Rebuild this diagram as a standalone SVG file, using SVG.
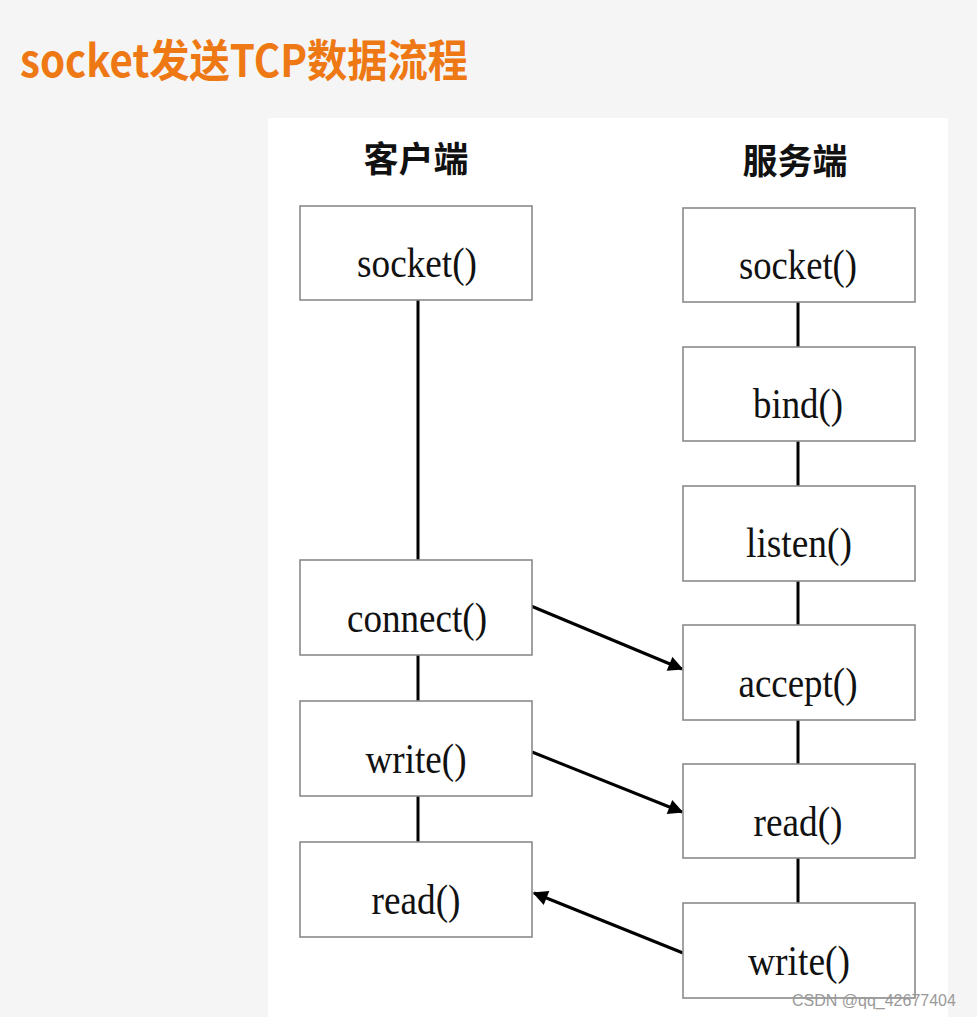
<svg xmlns="http://www.w3.org/2000/svg" width="977" height="1017" viewBox="0 0 977 1017">
<defs>
<marker id="ah" viewBox="0 0 10 10" refX="9" refY="5" markerWidth="5.5" markerHeight="5" orient="auto" markerUnits="strokeWidth">
<path d="M0,0 L10,5 L0,10 z" fill="#000"/>
</marker>
<style>
.box{fill:#fff;stroke:#8a8a8a;stroke-width:1.6}
.lbl{font-family:"Liberation Serif","Times New Roman",serif;font-size:42px;fill:#111;text-anchor:middle}
.hdr{font-family:"Noto Sans CJK SC","Noto Sans",sans-serif;font-size:35px;font-weight:bold;fill:#111;text-anchor:middle}
.ln{stroke:#000;stroke-width:3;fill:none}
.arr{stroke:#000;stroke-width:3;fill:none;marker-end:url(#ah)}
</style>
</defs>
<rect x="0" y="0" width="977" height="1017" fill="#f5f5f5"/>
<rect x="268" y="118" width="680" height="899" fill="#fff"/>
<text x="20" y="77" font-family="Noto Sans CJK SC, Noto Sans, sans-serif" font-size="44" font-weight="bold" fill="#ee7814" textLength="448" lengthAdjust="spacingAndGlyphs">socket发送TCP数据流程</text>
<text class="hdr" x="416" y="172">客户端</text>
<text class="hdr" x="795" y="174">服务端</text>
<g id="connectors">
<line class="ln" x1="418" y1="300" x2="418" y2="560"/>
<line class="ln" x1="418" y1="655" x2="418" y2="701"/>
<line class="ln" x1="418" y1="796" x2="418" y2="842"/>
<line class="ln" x1="798" y1="302" x2="798" y2="347"/>
<line class="ln" x1="798" y1="441" x2="798" y2="486"/>
<line class="ln" x1="798" y1="581" x2="798" y2="625"/>
<line class="ln" x1="798" y1="720" x2="798" y2="764"/>
<line class="ln" x1="798" y1="858" x2="798" y2="903"/>
<line class="arr" x1="531" y1="606" x2="682" y2="669"/>
<line class="arr" x1="532" y1="752" x2="682" y2="812"/>
<line class="arr" x1="683" y1="953" x2="534" y2="893"/>
</g>
<g id="c-socket"><rect class="box" x="300" y="206" width="232" height="94"/><text class="lbl" x="417" y="277" textLength="120" lengthAdjust="spacingAndGlyphs">socket()</text></g>
<g id="c-connect"><rect class="box" x="300" y="560" width="232" height="95"/><text class="lbl" x="417" y="632" textLength="140" lengthAdjust="spacingAndGlyphs">connect()</text></g>
<g id="c-write"><rect class="box" x="300" y="701" width="232" height="95"/><text class="lbl" x="416" y="773" textLength="101" lengthAdjust="spacingAndGlyphs">write()</text></g>
<g id="c-read"><rect class="box" x="300" y="842" width="232" height="95"/><text class="lbl" x="416" y="914" textLength="89" lengthAdjust="spacingAndGlyphs">read()</text></g>
<g id="s-socket"><rect class="box" x="683" y="208" width="232" height="94"/><text class="lbl" x="798" y="279" textLength="118" lengthAdjust="spacingAndGlyphs">socket()</text></g>
<g id="s-bind"><rect class="box" x="683" y="347" width="232" height="94"/><text class="lbl" x="798" y="418" textLength="90" lengthAdjust="spacingAndGlyphs">bind()</text></g>
<g id="s-listen"><rect class="box" x="683" y="486" width="232" height="95"/><text class="lbl" x="799" y="557" textLength="106" lengthAdjust="spacingAndGlyphs">listen()</text></g>
<g id="s-accept"><rect class="box" x="683" y="625" width="232" height="95"/><text class="lbl" x="798" y="697" textLength="119" lengthAdjust="spacingAndGlyphs">accept()</text></g>
<g id="s-read"><rect class="box" x="683" y="764" width="232" height="94"/><text class="lbl" x="798" y="836" textLength="89" lengthAdjust="spacingAndGlyphs">read()</text></g>
<g id="s-write"><rect class="box" x="683" y="903" width="232" height="95"/><text class="lbl" x="799" y="975" textLength="102" lengthAdjust="spacingAndGlyphs">write()</text></g>
<text x="792" y="1006" font-family="Liberation Sans, Arial, sans-serif" font-size="16" fill="#999">CSDN @qq_42677404</text>
</svg>
